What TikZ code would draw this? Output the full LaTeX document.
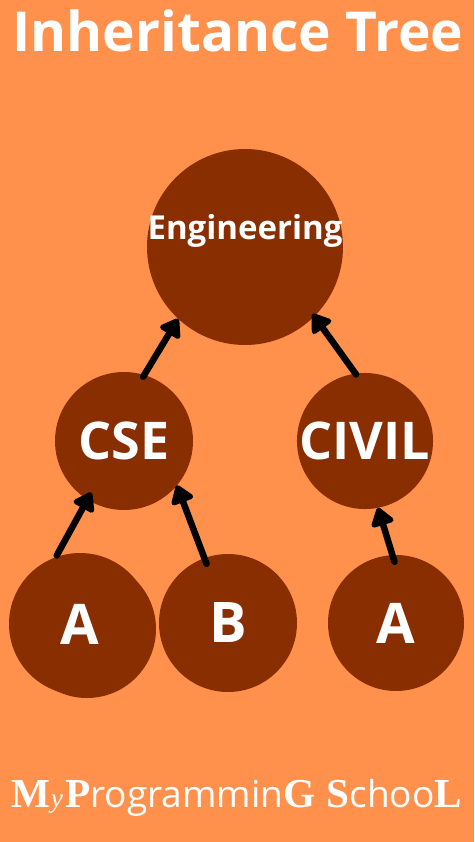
\documentclass[tikz,border=0pt]{standalone}
\usepackage{fontspec}
\usepackage{graphicx}
\setmainfont{Open Sans}
\newfontfamily\logoserif{Liberation Serif}
\usetikzlibrary{arrows.meta}
\definecolor{bgorange}{RGB}{255,145,77}
\definecolor{circbrown}{RGB}{137,46,0}
\tikzset{
  x=1pt, y=-1pt,
  bubble/.style={circle, fill=circbrown, draw=none, inner sep=0pt, outer sep=0pt,
                 text=white, font=\bfseries, minimum size=#1},
  inharrow/.style={line width=6.5pt, draw=black, line cap=round,
                   -{Triangle[width=26pt,length=20pt,round]}},
  whitetext/.style={text=white, inner sep=0pt, outer sep=0pt}
}
\begin{document}
\begin{tikzpicture}
\fill[bgorange] (0,0) rectangle (474,842);
\useasboundingbox (0,0) rectangle (474,842);
% title
\node[whitetext, anchor=base, font=\fontsize{55}{60}\selectfont\bfseries] (title) at (238,52) {Inheritance Tree};
% circles
\node[bubble=196pt] (eng) at (245,247) {};
\node[whitetext, anchor=base, font=\fontsize{33}{36}\selectfont\bfseries] (engtext) at (245,240) {Engineering};
\node[bubble=138pt, font=\fontsize{52}{56}\selectfont\bfseries] (cse) at (124,441) {CSE};
\node[bubble=136pt, font=\fontsize{52}{56}\selectfont\bfseries] (civil) at (365,441) {CIVIL};
\fill[circbrown] (87,629) circle (69pt);
\node[bubble=142pt, font=\fontsize{56}{60}\selectfont\bfseries] (a1) at (80,624) {A};
\node[bubble=138pt, font=\fontsize{56}{60}\selectfont\bfseries] (b) at (228,623) {B};
\node[bubble=136pt, font=\fontsize{56}{60}\selectfont\bfseries] (a2) at (396,623) {A};
% arrows
\draw[inharrow, shorten <=-2pt] (cse.73) -- (eng.227);
\draw[inharrow, shorten <=-1pt, shorten >=-3pt] (civil.98) -- (eng.315);
\draw[inharrow, shorten <=2pt, shorten >=-8pt] (a1.110) -- (cse.238);
\draw[inharrow, shorten <=-6pt] (b.110) -- (cse.320);
\draw[inharrow, shorten <=-7pt] (a2.93) -- (civil.281);
% logo
\node[whitetext, anchor=base] (logo) at (237,807) {\resizebox{450pt}{!}{%
  {\logoserif\bfseries\fontsize{30}{32}\selectfont M}{\logoserif\itshape\fontsize{20}{22}\selectfont y}\,%
  {\logoserif\bfseries\fontsize{30}{32}\selectfont P}{\fontsize{27}{30}\selectfont rogrammin}%
  {\logoserif\bfseries\fontsize{30}{32}\selectfont G}\hspace{8pt}%
  {\logoserif\bfseries\fontsize{30}{32}\selectfont S}{\fontsize{27}{30}\selectfont choo}%
  {\logoserif\bfseries\fontsize{30}{32}\selectfont L}}};
\end{tikzpicture}
\end{document}
